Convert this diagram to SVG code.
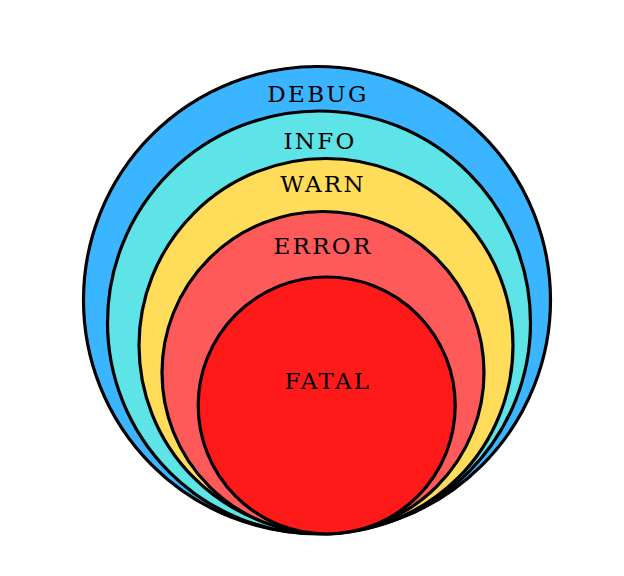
<svg xmlns="http://www.w3.org/2000/svg" width="624" height="576" viewBox="0 0 624 576">
<style>
.c{stroke:#000;stroke-width:3.2}
.t{font-family:"DejaVu Serif",serif;font-size:23px;letter-spacing:2.3px;text-anchor:middle;fill:#000}
</style>
<rect width="624" height="576" fill="#fff"/>
<g id="debug"><circle class="c" cx="317" cy="300" r="233.5" fill="#3bb5ff"/><text class="t" x="318" y="102">DEBUG</text></g>
<g id="info"><circle class="c" cx="319" cy="322.5" r="211.5" fill="#5ee3e6"/><text class="t" x="320" y="149">INFO</text></g>
<g id="warn"><circle class="c" cx="326" cy="345.5" r="187" fill="#ffdc5a"/><text class="t" x="323" y="192">WARN</text></g>
<g id="error"><circle class="c" cx="323" cy="372.5" r="161" fill="#ff5a5a"/><text class="t" x="323" y="254">ERROR</text></g>
<g id="fatal"><circle class="c" cx="326.7" cy="405.5" r="128.5" fill="#ff1a1a"/><text class="t" x="328" y="389">FATAL</text></g>
<g id="connectors"/>
</svg>
